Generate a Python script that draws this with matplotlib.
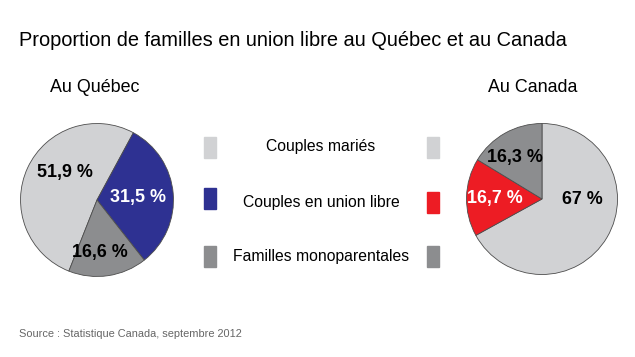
import matplotlib
matplotlib.use("Agg")
import matplotlib.pyplot as plt
from matplotlib.patches import Rectangle

plt.rcParams['font.family'] = ['Liberation Sans', 'DejaVu Sans']

# données
categories = ["Couples mariés", "Couples en union libre", "Familles monoparentales"]
quebec = [51.9, 31.5, 16.6]
canada = [67.0, 16.7, 16.3]
quebec_labels = ["51,9 %", "31,5 %", "16,6 %"]
canada_labels = ["67 %", "16,7 %", "16,3 %"]

col_quebec = ["#d1d2d4", "#2e3192", "#8c8d8f"]
col_canada = ["#d1d2d4", "#ed1c24", "#8c8d8f"]
txt_quebec = ["black", "white", "black"]
txt_canada = ["black", "white", "black"]

W, H = 635, 357
fig = plt.figure(figsize=(W / 100, H / 100), dpi=100)
fig.patch.set_facecolor("white")


def px_axes(x0, y0, x1, y1):
    # boite en pixels (origine en haut a gauche)
    return fig.add_axes([x0 / W, 1 - y1 / H, (x1 - x0) / W, (y1 - y0) / H])


def draw_pie(ax, vals, cols, labels, tcols, start, lpos):
    ax.pie(vals, colors=cols, startangle=start, counterclock=False, radius=1,
           wedgeprops=dict(edgecolor="#4d4d4d", linewidth=0.6))
    ax.set_xlim(-1.02, 1.02)
    ax.set_ylim(-1.02, 1.02)
    ax.set_aspect("equal")
    for lab, c, (x, y) in zip(labels, tcols, lpos):
        ax.text(x, y, lab, color=c, fontsize=12.9, fontweight="bold",
                ha="center", va="center")


# Québec
ax1 = px_axes(19, 122, 175, 278)
draw_pie(ax1, quebec, col_quebec, quebec_labels, txt_quebec,
         90 + 360 * quebec[0] / 100 / 2 + 65,
         [(-0.42, 0.36), (0.53, 0.03), (0.04, -0.69)])

# Canada
ax2 = px_axes(465, 122, 619, 276)
draw_pie(ax2, canada, col_canada, canada_labels, txt_canada, 90,
         [(0.53, 0.0), (-0.62, 0.01), (-0.36, 0.55)])

# titres
fig.text(19 / W, 1 - 41 / H, "Proportion de familles en union libre au Québec et au Canada",
         fontsize=14.4, ha="left", va="center")
fig.text(95 / W, 1 - 88 / H, "Au Québec", fontsize=12.9, ha="center", va="center")
fig.text(533 / W, 1 - 88 / H, "Au Canada", fontsize=12.9, ha="center", va="center")

# légende centrale
text_y = [147, 202, 257]
left_y = [147, 198, 256]
right_y = [147, 202, 256]
for i, cat in enumerate(categories):
    fig.patches.append(Rectangle((204 / W, 1 - (left_y[i] + 10.5) / H), 12 / W, 21 / H,
                                 transform=fig.transFigure, color=col_quebec[i]))
    fig.patches.append(Rectangle((427 / W, 1 - (right_y[i] + 10.5) / H), 12 / W, 21 / H,
                                 transform=fig.transFigure, color=col_canada[i]))
    fig.text(321 / W, 1 - text_y[i] / H, cat, fontsize=11.3, ha="center", va="center")

fig.text(19 / W, 1 - 334 / H, "Source : Statistique Canada, septembre 2012",
         fontsize=7.9, color="#666666", ha="left", va="center")

fig.savefig("out.png", dpi=100)
